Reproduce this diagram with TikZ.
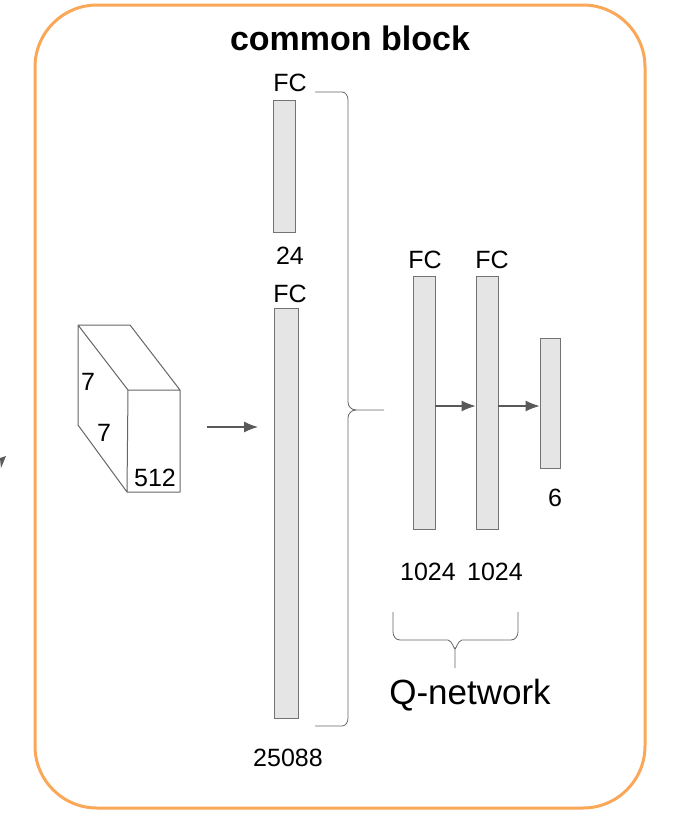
\documentclass[tikz,border=0pt]{standalone}
\usepackage{fontspec}
\setmainfont{Liberation Sans}
\usetikzlibrary{arrows.meta}
\begin{document}
\begin{tikzpicture}[x=1pt,y=-1pt,
  bar/.style={draw=black!55,fill=black!10,line width=0.8pt},
  lbl/.style={font=\fontsize{25}{26}\selectfont,inner sep=0pt},
  ln/.style={draw=black!60,line width=1pt},
  arr/.style={draw=black!65,line width=1.2pt,-{Latex[length=14pt,width=11pt]}}]
\useasboundingbox (0,0) rectangle (676,831);
\draw[draw={rgb,255:red,250;green,168;blue,88},line width=3pt,rounded corners=62pt] (35,5) rectangle (645,808);
\node[font=\bfseries\fontsize{34}{36}\selectfont] (title) at (350,38) {common block};
% bars
\node[bar,minimum width=22pt,minimum height=132pt,inner sep=0pt] (b1) at (284,166) {};
\node[bar,minimum width=24pt,minimum height=410pt,inner sep=0pt] (b2) at (286,513) {};
\node[bar,minimum width=22pt,minimum height=253pt,inner sep=0pt] (b3) at (424,403) {};
\node[bar,minimum width=22pt,minimum height=253pt,inner sep=0pt] (b4) at (487,403) {};
\node[bar,minimum width=20pt,minimum height=130pt,inner sep=0pt] (b5) at (550,403) {};
\node[lbl] (fc1) at (290,83) {FC};
\node[lbl] (n24) at (290,256) {24};
\node[lbl] (fc2) at (290,294) {FC};
\node[lbl] (n25) at (288,758) {25088};
\node[lbl] (fc3) at (425,260) {FC};
\node[lbl] (fc4) at (492,260) {FC};
\node[lbl] (n1a) at (428,572) {1024};
\node[lbl] (n1b) at (495,572) {1024};
\node[lbl] (n6) at (555,498) {6};
% cuboid
\coordinate (c1) at (78,325); \coordinate (c2) at (130,325);
\coordinate (c3) at (180,390); \coordinate (c4) at (128,390);
\coordinate (c5) at (78,425); \coordinate (c6) at (127,492); \coordinate (c7) at (180,492);
\draw[ln,line join=round] (c1)--(c2)--(c3)--(c7)--(c6)--(c4)--(c3) (c1)--(c4) (c1)--(c5)--(c6);
\node[lbl] (s1) at (88,382) {7};
\node[lbl] (s2) at (104,433) {7};
\node[lbl] (s3) at (155,478) {512};
\coordinate (a0) at (207,427); \coordinate (a1) at (258,427);
\draw[arr] (a0)--(a1);
\draw[arr] (b3.east|-0,406)--(b4.west|-0,406);
\draw[arr] (b4.east|-0,406)--(b5.west|-0,406);
% big brace
\draw[ln,line width=0.8pt] (315,92) -- (342,92) to[out=0,in=90] (348,100) -- (348,402) to[out=-90,in=180] (356,410) -- (384,410);
\draw[ln,line width=0.8pt] (356,410) to[out=180,in=90] (348,418) -- (348,718) to[out=-90,in=0] (342,726) -- (315,726);
% Q brace
\draw[ln,line width=0.8pt] (393,612) -- (393,632) to[out=-90,in=180] (400,640) -- (448,640) to[out=0,in=-90] (455,648) -- (455,668);
\draw[ln,line width=0.8pt] (455,648) to[out=-90,in=180] (462,640) -- (511,640) to[out=0,in=-90] (518,632) -- (518,612);
\node[font=\fontsize{35}{36}\selectfont] (qn) at (470,695) {Q-network};
% left partial arrow tip
\fill[black!65] (0,458) -- (6,456) -- (1,468) -- cycle;
\end{tikzpicture}
\end{document}
